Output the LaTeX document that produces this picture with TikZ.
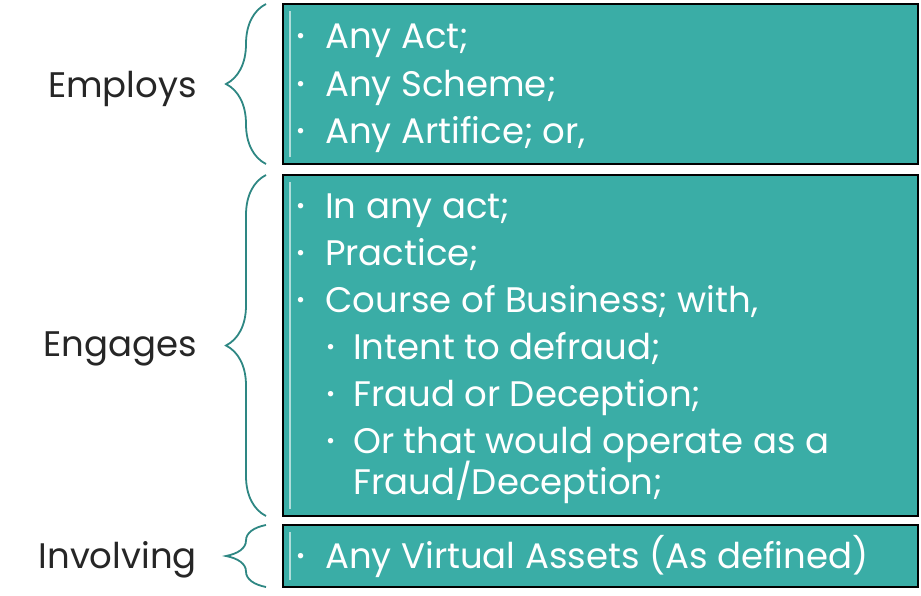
\documentclass[tikz,border=0pt]{standalone}
\usepackage{fontspec}
\setmainfont{Poppins}[Ligatures=NoCommon]
\usetikzlibrary{decorations.pathreplacing}
\definecolor{teal1}{HTML}{3AADA6}
\definecolor{teal2}{HTML}{2E8783}
\definecolor{txt}{HTML}{262626}
\begin{document}
\begin{tikzpicture}[x=1pt,y=-1pt,
  box/.style={draw=black,line width=1.5pt,fill=teal1},
  bev/.style={draw=teal1!40!white,line width=2.5pt},
  it/.style={anchor=base west,text=white,font=\fontsize{35.5}{35.5}\fontseries{l}\selectfont,inner sep=0},
  bul/.style={anchor=base west,text=white,font=\fontsize{22}{22}\selectfont,inner sep=0},
  lab/.style={anchor=base east,text=txt,font=\fontsize{35.5}{35.5}\fontseries{l}\selectfont,inner sep=0},
  br/.style={draw=teal2,line width=1.8pt,decorate,decoration={brace,amplitude=40pt,aspect=0.5}}]
\useasboundingbox (0,0) rectangle (921,595);
\foreach \n/\a/\b in {b1/4/164,b2/175/516,b3/525/587}{
  \draw[box] (283,\a) rectangle (918,\b);
  \draw[bev] (290,\a+7) -- (290,\b-7);
  \coordinate (\n t) at (266,\a);
  \coordinate (\n b) at (266,\b);
}
\draw[br] (b1b) -- (b1t);
\draw[br] (b2b) -- (b2t);
\draw[br,decoration={amplitude=40pt}] (b3b) -- (b3t);
\node[lab] (l1) at (197,97) {Employs};
\node[lab] (l2) at (197,356) {Engages};
\node[lab] (l3) at (197,568) {Involving};
\foreach \y/\t [count=\i] in {48/Any Act;,96/Any Scheme;,143/{Any Artifice; or,},218/In any act;,265/Practice;,312/{Course of Business; with,},568/Any Virtual Assets (As defined)}{
  \node[bul] (p\i) at (296,\y-5) {•};
  \node[it] (t\i) at (325,\y) {\t};
}
\foreach \y/\t [count=\i] in {359/Intent to defraud;,406/Fraud or Deception;,453/Or that would operate as a}{
  \node[bul] (q\i) at (326,\y-5) {•};
  \node[it] (s\i) at (353,\y) {\t};
}
\node[it] (s4) at (353,494) {Fraud/Deception;};
\end{tikzpicture}
\end{document}
